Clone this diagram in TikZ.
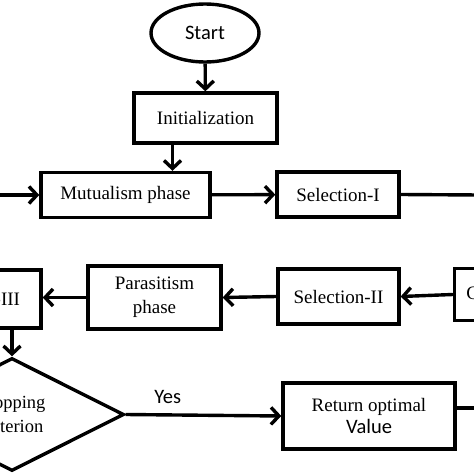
\documentclass[tikz,border=0pt]{standalone}
\usepackage{fontspec}
\setmainfont{Liberation Serif}
\newfontfamily\calibri{Carlito}
\usetikzlibrary{shapes.geometric,arrows.meta}
\begin{document}
\begin{tikzpicture}[x=1pt,y=-1pt,line width=3.4pt,-{Straight Barb[length=8pt,width=17pt]}]
      \tikzstyle{block}=[draw,rectangle,inner sep=0pt,align=center,font=\fontsize{19}{24}\selectfont]
      \tikzstyle{terminal}=[draw,ellipse,inner sep=0pt,font=\calibri\fontsize{20.5}{24}\selectfont]
      \tikzstyle{decision}=[draw,diamond,aspect=1.97,inner sep=0pt,align=center,font=\fontsize{18.5}{24}\selectfont]

      \clip (0,0) rectangle (474,474);
      \useasboundingbox (0,0) rectangle (474,474);
      \fill[white] (0,0) rectangle (474,474);

      \node[terminal,minimum width=108pt,minimum height=58pt] (start) at (205,33) {Start};
      \node[block,minimum width=143pt,minimum height=50pt] (init) at (205.5,118) {Initialization};
      \node[block,minimum width=169pt,minimum height=45pt] (mutual) at (125.5,195) {Mutualism phase};
      \node[block,minimum width=122pt,minimum height=45pt] (sel1) at (338,194.5) {Selection-I};
      \node[block,minimum width=190pt,minimum height=52pt] (comm) at (549.5,294.5) {Commensalism phase};
      \node[block,minimum width=121pt,minimum height=55pt] (sel2) at (338.5,296.5) {Selection-II};
      \node[block,minimum width=133pt,minimum height=63pt] (para) at (154.5,297.5) {Parasitism\\phase};
      \node[block,minimum width=138pt,minimum height=58pt] (sel3) at (-28,299) {Selection-III};
      \node[decision,minimum width=224pt,minimum height=113pt] (stop) at (12,414.5) {Stopping\\criterion};
      \node[block,minimum width=172pt,minimum height=66pt] (ret) at (369,416)
            {Return optimal\\[-2pt]{\calibri\fontsize{20.5}{24}\selectfont Value}};

      \coordinate (in) at (-5,195);
      \coordinate (out1) at (480,195);
      \coordinate (out2) at (480,408);

      \draw (start) -- (init);
      \draw ([xshift=-33pt]init.south) -- ([xshift=-33pt]init.south |- mutual.north);
      \draw (in) -- (mutual.west);
      \draw (mutual) -- (sel1);
      \draw[-] (sel1.east) -- (out1);
      \draw (comm.west) -- (sel2.east);
      \draw (sel2.west) -- (para.east);
      \draw (para.west) -- (para.west -| sel3.east);
      \draw (stop.north |- sel3.south) -- (stop.north);
      \draw (stop.east) -- node[pos=0.27,above=6pt,font=\calibri\fontsize{20.5}{24}\selectfont] (yes) {Yes} (ret.west);
      \draw[-] ([yshift=8pt]ret.east) -- (out2);
    \end{tikzpicture}
\end{document}
